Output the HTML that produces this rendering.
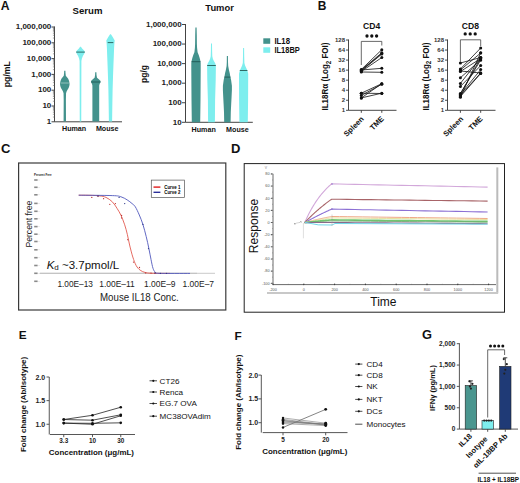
<!DOCTYPE html>
<html><head><meta charset="utf-8"><style>
html,body{margin:0;padding:0;background:#fff;}
svg{display:block;}
</style></head><body>
<svg width="520" height="483" viewBox="0 0 520 483">
<rect width="520" height="483" fill="#fff"/>
<text x="0.8" y="10" font-size="12.2" text-anchor="start" font-weight="bold" font-family="Liberation Sans, sans-serif" fill="#111" >A</text>
<text x="87.5" y="13.8" font-size="9.6" text-anchor="middle" font-weight="bold" font-family="Liberation Sans, sans-serif" fill="#111" >Serum</text>
<line x1="54.5" y1="26.5" x2="54.5" y2="121.8" stroke="#444" stroke-width="1" />
<line x1="51.5" y1="27.0" x2="54.5" y2="27.0" stroke="#444" stroke-width="1" />
<text x="51.3" y="29.2" font-size="8.0" text-anchor="end" font-weight="bold" font-family="Liberation Sans, sans-serif" fill="#222" >1,000,000</text>
<line x1="52.9" y1="38.043" x2="54.5" y2="38.043" stroke="#666" stroke-width="0.6" />
<line x1="52.9" y1="35.261" x2="54.5" y2="35.261" stroke="#666" stroke-width="0.6" />
<line x1="52.9" y1="33.287" x2="54.5" y2="33.287" stroke="#666" stroke-width="0.6" />
<line x1="52.9" y1="31.756" x2="54.5" y2="31.756" stroke="#666" stroke-width="0.6" />
<line x1="52.9" y1="30.505" x2="54.5" y2="30.505" stroke="#666" stroke-width="0.6" />
<line x1="52.9" y1="29.447" x2="54.5" y2="29.447" stroke="#666" stroke-width="0.6" />
<line x1="52.9" y1="28.531" x2="54.5" y2="28.531" stroke="#666" stroke-width="0.6" />
<line x1="52.9" y1="27.722" x2="54.5" y2="27.722" stroke="#666" stroke-width="0.6" />
<line x1="51.5" y1="42.8" x2="54.5" y2="42.8" stroke="#444" stroke-width="1" />
<text x="51.3" y="45.0" font-size="8.0" text-anchor="end" font-weight="bold" font-family="Liberation Sans, sans-serif" fill="#222" >100,000</text>
<line x1="52.9" y1="53.843" x2="54.5" y2="53.843" stroke="#666" stroke-width="0.6" />
<line x1="52.9" y1="51.061" x2="54.5" y2="51.061" stroke="#666" stroke-width="0.6" />
<line x1="52.9" y1="49.087" x2="54.5" y2="49.087" stroke="#666" stroke-width="0.6" />
<line x1="52.9" y1="47.556" x2="54.5" y2="47.556" stroke="#666" stroke-width="0.6" />
<line x1="52.9" y1="46.305" x2="54.5" y2="46.305" stroke="#666" stroke-width="0.6" />
<line x1="52.9" y1="45.247" x2="54.5" y2="45.247" stroke="#666" stroke-width="0.6" />
<line x1="52.9" y1="44.331" x2="54.5" y2="44.331" stroke="#666" stroke-width="0.6" />
<line x1="52.9" y1="43.522" x2="54.5" y2="43.522" stroke="#666" stroke-width="0.6" />
<line x1="51.5" y1="58.6" x2="54.5" y2="58.6" stroke="#444" stroke-width="1" />
<text x="51.3" y="60.800" font-size="8.0" text-anchor="end" font-weight="bold" font-family="Liberation Sans, sans-serif" fill="#222" >10,000</text>
<line x1="52.9" y1="69.643" x2="54.5" y2="69.643" stroke="#666" stroke-width="0.6" />
<line x1="52.9" y1="66.861" x2="54.5" y2="66.861" stroke="#666" stroke-width="0.6" />
<line x1="52.9" y1="64.887" x2="54.5" y2="64.887" stroke="#666" stroke-width="0.6" />
<line x1="52.9" y1="63.356" x2="54.5" y2="63.356" stroke="#666" stroke-width="0.6" />
<line x1="52.9" y1="62.105" x2="54.5" y2="62.105" stroke="#666" stroke-width="0.6" />
<line x1="52.9" y1="61.047" x2="54.5" y2="61.047" stroke="#666" stroke-width="0.6" />
<line x1="52.9" y1="60.131" x2="54.5" y2="60.131" stroke="#666" stroke-width="0.6" />
<line x1="52.9" y1="59.322" x2="54.5" y2="59.322" stroke="#666" stroke-width="0.6" />
<line x1="51.5" y1="74.4" x2="54.5" y2="74.4" stroke="#444" stroke-width="1" />
<text x="51.3" y="76.600" font-size="8.0" text-anchor="end" font-weight="bold" font-family="Liberation Sans, sans-serif" fill="#222" >1,000</text>
<line x1="52.9" y1="85.443" x2="54.5" y2="85.443" stroke="#666" stroke-width="0.6" />
<line x1="52.9" y1="82.661" x2="54.5" y2="82.661" stroke="#666" stroke-width="0.6" />
<line x1="52.9" y1="80.687" x2="54.5" y2="80.687" stroke="#666" stroke-width="0.6" />
<line x1="52.9" y1="79.156" x2="54.5" y2="79.156" stroke="#666" stroke-width="0.6" />
<line x1="52.9" y1="77.905" x2="54.5" y2="77.905" stroke="#666" stroke-width="0.6" />
<line x1="52.9" y1="76.847" x2="54.5" y2="76.847" stroke="#666" stroke-width="0.6" />
<line x1="52.9" y1="75.931" x2="54.5" y2="75.931" stroke="#666" stroke-width="0.6" />
<line x1="52.9" y1="75.122" x2="54.5" y2="75.122" stroke="#666" stroke-width="0.6" />
<line x1="51.5" y1="90.2" x2="54.5" y2="90.2" stroke="#444" stroke-width="1" />
<text x="51.3" y="92.4" font-size="8.0" text-anchor="end" font-weight="bold" font-family="Liberation Sans, sans-serif" fill="#222" >100</text>
<line x1="52.9" y1="101.243" x2="54.5" y2="101.243" stroke="#666" stroke-width="0.6" />
<line x1="52.9" y1="98.461" x2="54.5" y2="98.461" stroke="#666" stroke-width="0.6" />
<line x1="52.9" y1="96.487" x2="54.5" y2="96.487" stroke="#666" stroke-width="0.6" />
<line x1="52.9" y1="94.956" x2="54.5" y2="94.956" stroke="#666" stroke-width="0.6" />
<line x1="52.9" y1="93.705" x2="54.5" y2="93.705" stroke="#666" stroke-width="0.6" />
<line x1="52.9" y1="92.647" x2="54.5" y2="92.647" stroke="#666" stroke-width="0.6" />
<line x1="52.9" y1="91.731" x2="54.5" y2="91.731" stroke="#666" stroke-width="0.6" />
<line x1="52.9" y1="90.922" x2="54.5" y2="90.922" stroke="#666" stroke-width="0.6" />
<line x1="51.5" y1="106.0" x2="54.5" y2="106.0" stroke="#444" stroke-width="1" />
<text x="51.3" y="108.2" font-size="8.0" text-anchor="end" font-weight="bold" font-family="Liberation Sans, sans-serif" fill="#222" >10</text>
<line x1="52.9" y1="117.043" x2="54.5" y2="117.043" stroke="#666" stroke-width="0.6" />
<line x1="52.9" y1="114.261" x2="54.5" y2="114.261" stroke="#666" stroke-width="0.6" />
<line x1="52.9" y1="112.287" x2="54.5" y2="112.287" stroke="#666" stroke-width="0.6" />
<line x1="52.9" y1="110.756" x2="54.5" y2="110.756" stroke="#666" stroke-width="0.6" />
<line x1="52.9" y1="109.505" x2="54.5" y2="109.505" stroke="#666" stroke-width="0.6" />
<line x1="52.9" y1="108.447" x2="54.5" y2="108.447" stroke="#666" stroke-width="0.6" />
<line x1="52.9" y1="107.531" x2="54.5" y2="107.531" stroke="#666" stroke-width="0.6" />
<line x1="52.9" y1="106.722" x2="54.5" y2="106.722" stroke="#666" stroke-width="0.6" />
<line x1="51.5" y1="121.800" x2="54.5" y2="121.800" stroke="#444" stroke-width="1" />
<text x="51.3" y="124.000" font-size="8.0" text-anchor="end" font-weight="bold" font-family="Liberation Sans, sans-serif" fill="#222" >1</text>
<line x1="54.5" y1="121.8" x2="122" y2="121.8" stroke="#444" stroke-width="1" />
<text x="9.8" y="74.2" font-size="8.7" text-anchor="middle" font-weight="bold" font-family="Liberation Sans, sans-serif" fill="#111" transform="rotate(-90 9.8 74.2)">pg/mL</text>
<path d="M64.20,70.80 L64.10,73.00 L63.80,75.70 L62.60,77.30 L61.40,78.80 L60.50,81.00 L60.00,84.00 L60.30,86.00 L61.00,88.00 L62.20,90.00 L63.00,91.50 L63.55,93.30 L63.70,100.00 L63.60,121.40 L66.00,121.40 L65.90,100.00 L66.05,93.30 L66.60,91.50 L67.40,90.00 L68.60,88.00 L69.30,86.00 L69.60,84.00 L69.10,81.00 L68.20,78.80 L67.00,77.30 L65.80,75.70 L65.50,73.00 L65.40,70.80Z" fill="#43928c"/>
<line x1="60.8" y1="83" x2="68.8" y2="83" stroke="#8fc0bb" stroke-width="1" />
<path d="M80.10,46.70 L78.90,48.50 L76.90,50.50 L76.10,52.00 L76.90,54.00 L78.10,56.00 L79.10,58.50 L79.60,61.00 L79.75,121.40 L81.25,121.40 L81.40,61.00 L81.90,58.50 L82.90,56.00 L84.10,54.00 L84.90,52.00 L84.10,50.50 L82.10,48.50 L80.90,46.70Z" fill="#7eeeee"/>
<line x1="76.2" y1="52.1" x2="84.8" y2="52.1" stroke="#2e6b66" stroke-width="1" />
<path d="M95.20,72.20 L95.10,75.00 L94.60,77.80 L92.80,79.30 L91.00,80.90 L91.20,82.50 L92.00,84.00 L92.40,85.50 L92.40,121.40 L99.20,121.40 L99.20,85.50 L99.60,84.00 L100.40,82.50 L100.60,80.90 L98.80,79.30 L97.00,77.80 L96.50,75.00 L96.40,72.20Z" fill="#43928c"/>
<line x1="91.2" y1="82.0" x2="100.399" y2="82.0" stroke="#235e5a" stroke-width="1" />
<path d="M110.10,34.30 L108.30,37.00 L106.30,40.50 L106.60,43.00 L106.90,48.00 L107.20,56.00 L107.60,66.00 L108.00,77.00 L108.40,90.00 L108.70,108.00 L108.90,121.40 L112.10,121.40 L112.30,108.00 L112.60,90.00 L113.00,77.00 L113.40,66.00 L113.80,56.00 L114.10,48.00 L114.40,43.00 L114.70,40.50 L112.70,37.00 L110.90,34.30Z" fill="#7eeeee"/>
<line x1="107.7" y1="42.6" x2="113.3" y2="42.6" stroke="#2e6b66" stroke-width="1" />
<text x="74.1" y="131.2" font-size="7.15" text-anchor="middle" font-weight="bold" font-family="Liberation Sans, sans-serif" fill="#111" >Human</text>
<text x="107.2" y="131.2" font-size="7.15" text-anchor="middle" font-weight="bold" font-family="Liberation Sans, sans-serif" fill="#111" >Mouse</text>
<text x="219.6" y="11.1" font-size="9.4" text-anchor="middle" font-weight="bold" font-family="Liberation Sans, sans-serif" fill="#111" >Tumor</text>
<line x1="185.5" y1="24.0" x2="185.5" y2="122.3" stroke="#444" stroke-width="1" />
<line x1="182.0" y1="24.5" x2="185.5" y2="24.5" stroke="#444" stroke-width="1" />
<text x="181.6" y="26.8" font-size="8.0" text-anchor="end" font-weight="bold" font-family="Liberation Sans, sans-serif" fill="#222" >1,000,000</text>
<line x1="182.0" y1="44.06" x2="185.5" y2="44.06" stroke="#444" stroke-width="1" />
<text x="181.6" y="46.36" font-size="8.0" text-anchor="end" font-weight="bold" font-family="Liberation Sans, sans-serif" fill="#222" >100,000</text>
<line x1="182.0" y1="63.62" x2="185.5" y2="63.62" stroke="#444" stroke-width="1" />
<text x="181.6" y="65.92" font-size="8.0" text-anchor="end" font-weight="bold" font-family="Liberation Sans, sans-serif" fill="#222" >10,000</text>
<line x1="182.0" y1="83.179" x2="185.5" y2="83.179" stroke="#444" stroke-width="1" />
<text x="181.6" y="85.479" font-size="8.0" text-anchor="end" font-weight="bold" font-family="Liberation Sans, sans-serif" fill="#222" >1,000</text>
<line x1="182.0" y1="102.74" x2="185.5" y2="102.74" stroke="#444" stroke-width="1" />
<text x="181.6" y="105.039" font-size="8.0" text-anchor="end" font-weight="bold" font-family="Liberation Sans, sans-serif" fill="#222" >100</text>
<line x1="182.0" y1="122.3" x2="185.5" y2="122.3" stroke="#444" stroke-width="1" />
<text x="181.6" y="124.6" font-size="8.0" text-anchor="end" font-weight="bold" font-family="Liberation Sans, sans-serif" fill="#222" >10</text>
<line x1="185.5" y1="122.3" x2="252.8" y2="122.3" stroke="#444" stroke-width="1" />
<text x="146.8" y="74" font-size="8.5" text-anchor="middle" font-weight="bold" font-family="Liberation Sans, sans-serif" fill="#111" transform="rotate(-90 146.8 74)">pg/g</text>
<path d="M195.40,27.60 L195.20,35.00 L195.10,44.00 L194.90,48.00 L194.40,52.30 L193.30,55.00 L192.40,57.70 L191.70,60.40 L191.30,63.00 L191.30,70.00 L191.50,100.00 L191.80,122.30 L200.20,122.30 L200.50,100.00 L200.70,70.00 L200.70,63.00 L200.30,60.40 L199.60,57.70 L198.70,55.00 L197.60,52.30 L197.10,48.00 L196.90,44.00 L196.80,35.00 L196.60,27.60Z" fill="#43928c"/>
<line x1="191.6" y1="61.7" x2="200.4" y2="61.7" stroke="#235e5a" stroke-width="1" />
<path d="M211.00,43.50 L210.90,50.00 L210.70,56.30 L210.20,58.50 L209.40,60.40 L208.50,62.00 L207.70,63.50 L207.10,65.50 L207.30,80.00 L207.90,100.00 L208.10,122.30 L214.90,122.30 L215.10,100.00 L215.70,80.00 L215.90,65.50 L215.30,63.50 L214.50,62.00 L213.60,60.40 L212.80,58.50 L212.30,56.30 L212.10,50.00 L212.00,43.50Z" fill="#7eeeee"/>
<line x1="207.2" y1="65.5" x2="215.8" y2="65.5" stroke="#2e6b66" stroke-width="1" />
<path d="M226.85,56.00 L226.80,62.00 L226.60,66.00 L225.80,70.20 L225.10,73.00 L224.50,76.40 L223.70,80.00 L222.90,85.70 L222.90,90.00 L223.20,96.50 L223.60,104.00 L224.00,112.00 L224.20,122.30 L230.60,122.30 L230.80,112.00 L231.20,104.00 L231.60,96.50 L231.90,90.00 L231.90,85.70 L231.10,80.00 L230.30,76.40 L229.70,73.00 L229.00,70.20 L228.20,66.00 L228.00,62.00 L227.95,56.00Z" fill="#43928c"/>
<line x1="224.4" y1="77.1" x2="230.4" y2="77.1" stroke="#235e5a" stroke-width="1" />
<path d="M243.10,48.00 L243.00,56.00 L242.80,63.00 L242.10,65.50 L241.10,67.80 L239.80,70.50 L239.00,73.80 L239.10,100.00 L239.40,122.30 L247.80,122.30 L248.10,100.00 L248.20,73.80 L247.40,70.50 L246.10,67.80 L245.10,65.50 L244.40,63.00 L244.20,56.00 L244.10,48.00Z" fill="#7eeeee"/>
<line x1="239.799" y1="70.5" x2="247.4" y2="70.5" stroke="#2e6b66" stroke-width="1" />
<text x="203.7" y="131.7" font-size="7.15" text-anchor="middle" font-weight="bold" font-family="Liberation Sans, sans-serif" fill="#111" >Human</text>
<text x="237.4" y="131.7" font-size="7.15" text-anchor="middle" font-weight="bold" font-family="Liberation Sans, sans-serif" fill="#111" >Mouse</text>
<rect x="263.3" y="38.3" width="6.9" height="5.5" fill="#43928c"/>
<rect x="263.3" y="47.3" width="6.9" height="5.5" fill="#7eeeee"/>
<text x="274.4" y="43.7" font-size="8.3" text-anchor="start" font-weight="bold" font-family="Liberation Sans, sans-serif" fill="#111" textLength="15.6" lengthAdjust="spacingAndGlyphs" >IL18</text>
<text x="274.4" y="52.9" font-size="8.3" text-anchor="start" font-weight="bold" font-family="Liberation Sans, sans-serif" fill="#111" textLength="25.4" lengthAdjust="spacingAndGlyphs" >IL18BP</text>
<text x="317.8" y="10" font-size="12" text-anchor="start" font-weight="bold" font-family="Liberation Sans, sans-serif" fill="#111" >B</text>
<line x1="348.5" y1="39.5" x2="348.5" y2="110.3" stroke="#333" stroke-width="0.9" />
<line x1="346.0" y1="110.3" x2="348.5" y2="110.3" stroke="#333" stroke-width="0.9" />
<text x="345.0" y="112.399" font-size="6.0" text-anchor="end" font-weight="bold" font-family="Liberation Sans, sans-serif" fill="#333" >1</text>
<line x1="346.0" y1="100.259" x2="348.5" y2="100.259" stroke="#333" stroke-width="0.9" />
<text x="345.0" y="102.359" font-size="6.0" text-anchor="end" font-weight="bold" font-family="Liberation Sans, sans-serif" fill="#333" >2</text>
<line x1="346.0" y1="90.22" x2="348.5" y2="90.22" stroke="#333" stroke-width="0.9" />
<text x="345.0" y="92.32" font-size="6.0" text-anchor="end" font-weight="bold" font-family="Liberation Sans, sans-serif" fill="#333" >4</text>
<line x1="346.0" y1="80.18" x2="348.5" y2="80.18" stroke="#333" stroke-width="0.9" />
<text x="345.0" y="82.28" font-size="6.0" text-anchor="end" font-weight="bold" font-family="Liberation Sans, sans-serif" fill="#333" >8</text>
<line x1="346.0" y1="70.14" x2="348.5" y2="70.14" stroke="#333" stroke-width="0.9" />
<text x="345.0" y="72.24" font-size="6.0" text-anchor="end" font-weight="bold" font-family="Liberation Sans, sans-serif" fill="#333" >16</text>
<line x1="346.0" y1="60.1" x2="348.5" y2="60.1" stroke="#333" stroke-width="0.9" />
<text x="345.0" y="62.2" font-size="6.0" text-anchor="end" font-weight="bold" font-family="Liberation Sans, sans-serif" fill="#333" >32</text>
<line x1="346.0" y1="50.06" x2="348.5" y2="50.06" stroke="#333" stroke-width="0.9" />
<text x="345.0" y="52.160" font-size="6.0" text-anchor="end" font-weight="bold" font-family="Liberation Sans, sans-serif" fill="#333" >64</text>
<line x1="346.0" y1="40.019" x2="348.5" y2="40.019" stroke="#333" stroke-width="0.9" />
<text x="345.0" y="42.12" font-size="6.0" text-anchor="end" font-weight="bold" font-family="Liberation Sans, sans-serif" fill="#333" >128</text>
<line x1="348.5" y1="110.3" x2="396.5" y2="110.3" stroke="#333" stroke-width="0.9" />
<line x1="361.3" y1="110.3" x2="361.3" y2="112.8" stroke="#333" stroke-width="0.9" />
<line x1="381.8" y1="110.3" x2="381.8" y2="112.8" stroke="#333" stroke-width="0.9" />
<text x="371.6" y="29.2" font-size="8.6" text-anchor="middle" font-weight="bold" font-family="Liberation Sans, sans-serif" fill="#111" >CD4</text>
<circle cx="367.00" cy="36.0" r="1.65" fill="#111"/>
<circle cx="371.80" cy="36.0" r="1.65" fill="#111"/>
<circle cx="376.60" cy="36.0" r="1.65" fill="#111"/>
<path d="M361.3,65 L361.3,41.4 L381.8,41.4 L381.8,45.5" fill="none" stroke="#444" stroke-width="0.8"/>
<line x1="361.3" y1="69.5" x2="381.8" y2="49.7" stroke="#111" stroke-width="0.8" />
<line x1="361.3" y1="70" x2="381.8" y2="52.8" stroke="#111" stroke-width="0.8" />
<line x1="361.3" y1="70.5" x2="381.8" y2="53.5" stroke="#111" stroke-width="0.8" />
<line x1="361.3" y1="71" x2="381.8" y2="54.1" stroke="#111" stroke-width="0.8" />
<line x1="361.3" y1="71.5" x2="381.8" y2="57.5" stroke="#111" stroke-width="0.8" />
<line x1="361.3" y1="70" x2="381.8" y2="68.3" stroke="#111" stroke-width="0.8" />
<line x1="361.3" y1="72" x2="381.8" y2="72.3" stroke="#111" stroke-width="0.8" />
<line x1="361.3" y1="93.2" x2="381.8" y2="83.7" stroke="#111" stroke-width="0.8" />
<line x1="361.3" y1="97.9" x2="381.8" y2="83.7" stroke="#111" stroke-width="0.8" />
<line x1="361.3" y1="97.9" x2="381.8" y2="93.2" stroke="#111" stroke-width="0.8" />
<line x1="361.3" y1="93.2" x2="381.8" y2="93.5" stroke="#111" stroke-width="0.8" />
<line x1="361.3" y1="95.5" x2="381.8" y2="84.2" stroke="#111" stroke-width="0.8" />
<circle cx="361.3" cy="69.5" r="1.5" fill="#111"/>
<circle cx="381.8" cy="49.7" r="1.5" fill="#111"/>
<circle cx="361.3" cy="70" r="1.5" fill="#111"/>
<circle cx="381.8" cy="52.8" r="1.5" fill="#111"/>
<circle cx="361.3" cy="70.5" r="1.5" fill="#111"/>
<circle cx="381.8" cy="53.5" r="1.5" fill="#111"/>
<circle cx="361.3" cy="71" r="1.5" fill="#111"/>
<circle cx="381.8" cy="54.1" r="1.5" fill="#111"/>
<circle cx="361.3" cy="71.5" r="1.5" fill="#111"/>
<circle cx="381.8" cy="57.5" r="1.5" fill="#111"/>
<circle cx="361.3" cy="70" r="1.5" fill="#111"/>
<circle cx="381.8" cy="68.3" r="1.5" fill="#111"/>
<circle cx="361.3" cy="72" r="1.5" fill="#111"/>
<circle cx="381.8" cy="72.3" r="1.5" fill="#111"/>
<circle cx="361.3" cy="93.2" r="1.5" fill="#111"/>
<circle cx="381.8" cy="83.7" r="1.5" fill="#111"/>
<circle cx="361.3" cy="97.9" r="1.5" fill="#111"/>
<circle cx="381.8" cy="83.7" r="1.5" fill="#111"/>
<circle cx="361.3" cy="97.9" r="1.5" fill="#111"/>
<circle cx="381.8" cy="93.2" r="1.5" fill="#111"/>
<circle cx="361.3" cy="93.2" r="1.5" fill="#111"/>
<circle cx="381.8" cy="93.5" r="1.5" fill="#111"/>
<circle cx="361.3" cy="95.5" r="1.5" fill="#111"/>
<circle cx="381.8" cy="84.2" r="1.5" fill="#111"/>
<line x1="447.5" y1="39.5" x2="447.5" y2="110.3" stroke="#333" stroke-width="0.9" />
<line x1="445.0" y1="110.3" x2="447.5" y2="110.3" stroke="#333" stroke-width="0.9" />
<text x="444.0" y="112.399" font-size="6.0" text-anchor="end" font-weight="bold" font-family="Liberation Sans, sans-serif" fill="#333" >1</text>
<line x1="445.0" y1="100.259" x2="447.5" y2="100.259" stroke="#333" stroke-width="0.9" />
<text x="444.0" y="102.359" font-size="6.0" text-anchor="end" font-weight="bold" font-family="Liberation Sans, sans-serif" fill="#333" >2</text>
<line x1="445.0" y1="90.22" x2="447.5" y2="90.22" stroke="#333" stroke-width="0.9" />
<text x="444.0" y="92.32" font-size="6.0" text-anchor="end" font-weight="bold" font-family="Liberation Sans, sans-serif" fill="#333" >4</text>
<line x1="445.0" y1="80.18" x2="447.5" y2="80.18" stroke="#333" stroke-width="0.9" />
<text x="444.0" y="82.28" font-size="6.0" text-anchor="end" font-weight="bold" font-family="Liberation Sans, sans-serif" fill="#333" >8</text>
<line x1="445.0" y1="70.14" x2="447.5" y2="70.14" stroke="#333" stroke-width="0.9" />
<text x="444.0" y="72.24" font-size="6.0" text-anchor="end" font-weight="bold" font-family="Liberation Sans, sans-serif" fill="#333" >16</text>
<line x1="445.0" y1="60.1" x2="447.5" y2="60.1" stroke="#333" stroke-width="0.9" />
<text x="444.0" y="62.2" font-size="6.0" text-anchor="end" font-weight="bold" font-family="Liberation Sans, sans-serif" fill="#333" >32</text>
<line x1="445.0" y1="50.06" x2="447.5" y2="50.06" stroke="#333" stroke-width="0.9" />
<text x="444.0" y="52.160" font-size="6.0" text-anchor="end" font-weight="bold" font-family="Liberation Sans, sans-serif" fill="#333" >64</text>
<line x1="445.0" y1="40.019" x2="447.5" y2="40.019" stroke="#333" stroke-width="0.9" />
<text x="444.0" y="42.12" font-size="6.0" text-anchor="end" font-weight="bold" font-family="Liberation Sans, sans-serif" fill="#333" >128</text>
<line x1="447.5" y1="110.3" x2="495.5" y2="110.3" stroke="#333" stroke-width="0.9" />
<line x1="460.4" y1="110.3" x2="460.4" y2="112.8" stroke="#333" stroke-width="0.9" />
<line x1="480.7" y1="110.3" x2="480.7" y2="112.8" stroke="#333" stroke-width="0.9" />
<text x="470.4" y="29.2" font-size="8.6" text-anchor="middle" font-weight="bold" font-family="Liberation Sans, sans-serif" fill="#111" >CD8</text>
<circle cx="465.20" cy="33.9" r="1.65" fill="#111"/>
<circle cx="470.20" cy="33.9" r="1.65" fill="#111"/>
<circle cx="475.20" cy="33.9" r="1.65" fill="#111"/>
<path d="M460.4,61.6 L460.4,39.8 L480.7,39.8 L480.7,46" fill="none" stroke="#444" stroke-width="0.8"/>
<line x1="460.4" y1="63" x2="480.7" y2="57.5" stroke="#111" stroke-width="0.8" />
<line x1="460.4" y1="69" x2="480.7" y2="48" stroke="#111" stroke-width="0.8" />
<line x1="460.4" y1="70" x2="480.7" y2="53" stroke="#111" stroke-width="0.8" />
<line x1="460.4" y1="71.5" x2="480.7" y2="58.5" stroke="#111" stroke-width="0.8" />
<line x1="460.4" y1="77.7" x2="480.7" y2="60" stroke="#111" stroke-width="0.8" />
<line x1="460.4" y1="83.4" x2="480.7" y2="57.5" stroke="#111" stroke-width="0.8" />
<line x1="460.4" y1="86.5" x2="480.7" y2="65.6" stroke="#111" stroke-width="0.8" />
<line x1="460.4" y1="93.5" x2="480.7" y2="60" stroke="#111" stroke-width="0.8" />
<line x1="460.4" y1="94.5" x2="480.7" y2="69.6" stroke="#111" stroke-width="0.8" />
<line x1="460.4" y1="95.5" x2="480.7" y2="73" stroke="#111" stroke-width="0.8" />
<line x1="460.4" y1="96.5" x2="480.7" y2="73.5" stroke="#111" stroke-width="0.8" />
<line x1="460.4" y1="97.3" x2="480.7" y2="52.8" stroke="#111" stroke-width="0.8" />
<line x1="460.4" y1="71" x2="480.7" y2="73" stroke="#111" stroke-width="0.8" />
<line x1="460.4" y1="94" x2="480.7" y2="58" stroke="#111" stroke-width="0.8" />
<circle cx="460.4" cy="63" r="1.5" fill="#111"/>
<circle cx="480.7" cy="57.5" r="1.5" fill="#111"/>
<circle cx="460.4" cy="69" r="1.5" fill="#111"/>
<circle cx="480.7" cy="48" r="1.5" fill="#111"/>
<circle cx="460.4" cy="70" r="1.5" fill="#111"/>
<circle cx="480.7" cy="53" r="1.5" fill="#111"/>
<circle cx="460.4" cy="71.5" r="1.5" fill="#111"/>
<circle cx="480.7" cy="58.5" r="1.5" fill="#111"/>
<circle cx="460.4" cy="77.7" r="1.5" fill="#111"/>
<circle cx="480.7" cy="60" r="1.5" fill="#111"/>
<circle cx="460.4" cy="83.4" r="1.5" fill="#111"/>
<circle cx="480.7" cy="57.5" r="1.5" fill="#111"/>
<circle cx="460.4" cy="86.5" r="1.5" fill="#111"/>
<circle cx="480.7" cy="65.6" r="1.5" fill="#111"/>
<circle cx="460.4" cy="93.5" r="1.5" fill="#111"/>
<circle cx="480.7" cy="60" r="1.5" fill="#111"/>
<circle cx="460.4" cy="94.5" r="1.5" fill="#111"/>
<circle cx="480.7" cy="69.6" r="1.5" fill="#111"/>
<circle cx="460.4" cy="95.5" r="1.5" fill="#111"/>
<circle cx="480.7" cy="73" r="1.5" fill="#111"/>
<circle cx="460.4" cy="96.5" r="1.5" fill="#111"/>
<circle cx="480.7" cy="73.5" r="1.5" fill="#111"/>
<circle cx="460.4" cy="97.3" r="1.5" fill="#111"/>
<circle cx="480.7" cy="52.8" r="1.5" fill="#111"/>
<circle cx="460.4" cy="71" r="1.5" fill="#111"/>
<circle cx="480.7" cy="73" r="1.5" fill="#111"/>
<circle cx="460.4" cy="94" r="1.5" fill="#111"/>
<circle cx="480.7" cy="58" r="1.5" fill="#111"/>
<text x="328.2" y="76.5" font-size="8.6" font-weight="bold" font-family="Liberation Sans, sans-serif" fill="#111" text-anchor="middle" transform="rotate(-90 328.2 76.5)" textLength="68" lengthAdjust="spacingAndGlyphs">IL18R&#945; (Log<tspan font-size="6.6" dy="2.6">2</tspan><tspan dy="-2.6"> FOI)</tspan></text>
<text x="428.6" y="76.5" font-size="8.6" font-weight="bold" font-family="Liberation Sans, sans-serif" fill="#111" text-anchor="middle" transform="rotate(-90 428.6 76.5)" textLength="68" lengthAdjust="spacingAndGlyphs">IL18R&#945; (Log<tspan font-size="6.6" dy="2.6">2</tspan><tspan dy="-2.6"> FOI)</tspan></text>
<text x="364.4" y="119.5" font-size="7.6" font-weight="bold" font-family="Liberation Sans, sans-serif" fill="#111" text-anchor="end" transform="rotate(-45 364.4 119.5)">Spleen</text>
<text x="384.3" y="119.3" font-size="7.6" font-weight="bold" font-family="Liberation Sans, sans-serif" fill="#111" text-anchor="end" transform="rotate(-45 384.3 119.3)">TME</text>
<text x="463.8" y="119.5" font-size="7.6" font-weight="bold" font-family="Liberation Sans, sans-serif" fill="#111" text-anchor="end" transform="rotate(-45 463.8 119.5)">Spleen</text>
<text x="483.2" y="119.3" font-size="7.6" font-weight="bold" font-family="Liberation Sans, sans-serif" fill="#111" text-anchor="end" transform="rotate(-45 483.2 119.3)">TME</text>
<text x="0.9" y="152.6" font-size="13" text-anchor="start" font-weight="bold" font-family="Liberation Sans, sans-serif" fill="#111" >C</text>
<rect x="18.6" y="163" width="207.2" height="147" fill="none" stroke="#3a3a3a" stroke-width="1.2"/>
<text x="34" y="175.5" font-size="3.6" text-anchor="start" font-weight="bold" font-family="Liberation Sans, sans-serif" fill="#222" textLength="17.5" lengthAdjust="spacingAndGlyphs" >Percent Free</text>
<rect x="34.2" y="179.2" width="3.4" height="1.6" fill="#8a8a8a"/>
<rect x="38.6" y="179.7" width="0.8" height="0.6" fill="#bbb"/>
<rect x="34.2" y="186.5" width="3.4" height="1.6" fill="#8a8a8a"/>
<rect x="38.6" y="187.0" width="0.8" height="0.6" fill="#bbb"/>
<rect x="34.2" y="194.0" width="3.4" height="1.6" fill="#8a8a8a"/>
<rect x="38.6" y="194.5" width="0.8" height="0.6" fill="#bbb"/>
<rect x="34.2" y="202.6" width="3.4" height="1.6" fill="#8a8a8a"/>
<rect x="38.6" y="203.1" width="0.8" height="0.6" fill="#bbb"/>
<rect x="34.2" y="210.5" width="3.4" height="1.6" fill="#8a8a8a"/>
<rect x="38.6" y="211.0" width="0.8" height="0.6" fill="#bbb"/>
<rect x="34.2" y="218.0" width="3.4" height="1.6" fill="#8a8a8a"/>
<rect x="38.6" y="218.5" width="0.8" height="0.6" fill="#bbb"/>
<rect x="34.2" y="225.799" width="3.4" height="1.6" fill="#8a8a8a"/>
<rect x="38.6" y="226.299" width="0.8" height="0.6" fill="#bbb"/>
<rect x="34.2" y="233.399" width="3.4" height="1.6" fill="#8a8a8a"/>
<rect x="38.6" y="233.899" width="0.8" height="0.6" fill="#bbb"/>
<rect x="34.2" y="240.7" width="3.4" height="1.6" fill="#8a8a8a"/>
<rect x="38.6" y="241.2" width="0.8" height="0.6" fill="#bbb"/>
<rect x="34.2" y="249.0" width="3.4" height="1.6" fill="#8a8a8a"/>
<rect x="38.6" y="249.5" width="0.8" height="0.6" fill="#bbb"/>
<rect x="34.2" y="256.9" width="3.4" height="1.6" fill="#8a8a8a"/>
<rect x="38.6" y="257.4" width="0.8" height="0.6" fill="#bbb"/>
<rect x="34.2" y="264.7" width="3.4" height="1.6" fill="#8a8a8a"/>
<rect x="38.6" y="265.2" width="0.8" height="0.6" fill="#bbb"/>
<rect x="34.2" y="272.5" width="3.4" height="1.6" fill="#8a8a8a"/>
<rect x="38.6" y="273.0" width="0.8" height="0.6" fill="#bbb"/>
<rect x="34.2" y="280.5" width="3.4" height="1.6" fill="#8a8a8a"/>
<rect x="38.6" y="281.0" width="0.8" height="0.6" fill="#bbb"/>
<line x1="39.8" y1="273.3" x2="215" y2="273.3" stroke="#bbb" stroke-width="0.8" />
<text x="31.8" y="224.1" font-size="9.4" font-family="Liberation Sans, sans-serif" fill="#222" text-anchor="middle" transform="rotate(-90 31.8 224.1)" textLength="47" lengthAdjust="spacingAndGlyphs">Percent free</text>
<line x1="39.8" y1="273.3" x2="197" y2="273.3" stroke="#bbb" stroke-width="0.8" />
<path d="M78.70,195.20 C80.58,195.22 86.48,195.18 90.00,195.30 C93.52,195.42 97.13,195.55 99.80,195.90 C102.47,196.25 103.92,196.42 106.00,197.40 C108.08,198.38 110.43,199.93 112.30,201.80 C114.17,203.67 115.75,206.33 117.20,208.60 C118.65,210.87 119.75,212.70 121.00,215.40 C122.25,218.10 123.63,221.58 124.70,224.80 C125.77,228.02 126.58,231.33 127.40,234.70 C128.22,238.07 128.70,241.28 129.60,245.00 C130.50,248.72 131.70,253.57 132.80,257.00 C133.90,260.43 134.97,263.40 136.20,265.60 C137.43,267.80 138.63,269.03 140.20,270.20 C141.77,271.37 143.37,272.08 145.60,272.60 C147.83,273.12 149.53,273.17 153.60,273.30 C157.67,273.43 167.27,273.38 170.00,273.40" fill="none" stroke="#e25a50" stroke-width="0.9"/>
<path d="M78.70,195.20 C84.30,195.27 105.25,195.33 112.30,195.60 C119.35,195.87 118.52,196.08 121.00,196.80 C123.48,197.52 125.35,198.77 127.20,199.90 C129.05,201.03 130.75,202.45 132.10,203.60 C133.45,204.75 134.10,204.90 135.30,206.80 C136.50,208.70 138.03,212.07 139.30,215.00 C140.57,217.93 141.75,220.82 142.90,224.40 C144.05,227.98 145.20,232.47 146.20,236.50 C147.20,240.53 148.10,244.78 148.90,248.60 C149.70,252.42 150.32,256.12 151.00,259.40 C151.68,262.68 152.28,266.17 153.00,268.30 C153.72,270.43 154.30,271.37 155.30,272.20 C156.30,273.03 153.22,273.10 159.00,273.30 C164.78,273.50 184.83,273.38 190.00,273.40" fill="none" stroke="#5058bc" stroke-width="0.9"/>
<circle cx="91.8" cy="197.4" r="0.65" fill="#b83030"/>
<circle cx="98" cy="196.2" r="0.65" fill="#b83030"/>
<circle cx="103.6" cy="198.7" r="0.65" fill="#b83030"/>
<circle cx="109.8" cy="204.3" r="0.65" fill="#b83030"/>
<circle cx="115.4" cy="203.6" r="0.65" fill="#b83030"/>
<circle cx="121.6" cy="215.4" r="0.65" fill="#b83030"/>
<circle cx="121.6" cy="217.9" r="0.65" fill="#b83030"/>
<circle cx="127.8" cy="239.7" r="0.65" fill="#b83030"/>
<circle cx="133.5" cy="262.1" r="0.65" fill="#b83030"/>
<circle cx="139.5" cy="267.5" r="0.65" fill="#b83030"/>
<circle cx="145.6" cy="272.9" r="0.65" fill="#b83030"/>
<circle cx="151" cy="273.1" r="0.65" fill="#b83030"/>
<circle cx="155" cy="273.2" r="0.65" fill="#b83030"/>
<circle cx="98" cy="196" r="0.65" fill="#2a3488"/>
<circle cx="119.1" cy="197.4" r="0.65" fill="#2a3488"/>
<circle cx="124.7" cy="203.6" r="0.65" fill="#2a3488"/>
<circle cx="142.9" cy="224.4" r="0.65" fill="#2a3488"/>
<circle cx="148.5" cy="248.6" r="0.65" fill="#2a3488"/>
<circle cx="155" cy="272.9" r="0.65" fill="#2a3488"/>
<circle cx="160.4" cy="273.3" r="0.65" fill="#2a3488"/>
<circle cx="166.4" cy="273.3" r="0.65" fill="#2a3488"/>
<rect x="151.3" y="180.1" width="33.1" height="17.3" fill="#fff" stroke="#555" stroke-width="0.7"/>
<line x1="153.5" y1="187.1" x2="160.4" y2="187.1" stroke="#e01c1c" stroke-width="1.4" />
<line x1="153.5" y1="192.3" x2="160.4" y2="192.3" stroke="#2b2f9a" stroke-width="1.4" />
<text x="164.2" y="188.8" font-size="5.4" text-anchor="start" font-weight="bold" font-family="Liberation Sans, sans-serif" fill="#000" textLength="16.2" lengthAdjust="spacingAndGlyphs" >Curve 1</text>
<text x="164.2" y="194.0" font-size="5.4" text-anchor="start" font-weight="bold" font-family="Liberation Sans, sans-serif" fill="#000" textLength="16.2" lengthAdjust="spacingAndGlyphs" >Curve 2</text>
<text x="46.7" y="268.8" font-size="11.5" font-family="Liberation Sans, sans-serif" fill="#111"><tspan font-style="italic">K</tspan><tspan font-size="8" dy="1.5">d</tspan><tspan dy="-1.5"> ~3.7pmol/L</tspan></text>
<text x="75.2" y="287.3" font-size="8.6" text-anchor="middle" font-weight="normal" font-family="Liberation Sans, sans-serif" fill="#222" textLength="35.5" lengthAdjust="spacingAndGlyphs" >1.00E&#8211;13</text>
<text x="117" y="287.3" font-size="8.6" text-anchor="middle" font-weight="normal" font-family="Liberation Sans, sans-serif" fill="#222" textLength="35.5" lengthAdjust="spacingAndGlyphs" >1.00E&#8211;11</text>
<text x="159.8" y="287.3" font-size="8.6" text-anchor="middle" font-weight="normal" font-family="Liberation Sans, sans-serif" fill="#222" textLength="31.5" lengthAdjust="spacingAndGlyphs" >1.00E&#8211;9</text>
<text x="198.3" y="287.3" font-size="8.6" text-anchor="middle" font-weight="normal" font-family="Liberation Sans, sans-serif" fill="#222" textLength="31.5" lengthAdjust="spacingAndGlyphs" >1.00E&#8211;7</text>
<text x="139.4" y="301.2" font-size="10.2" text-anchor="middle" font-weight="normal" font-family="Liberation Sans, sans-serif" fill="#222" textLength="78.8" lengthAdjust="spacingAndGlyphs" >Mouse IL18 Conc.</text>
<text x="230.9" y="152.7" font-size="13" text-anchor="start" font-weight="bold" font-family="Liberation Sans, sans-serif" fill="#111" >D</text>
<rect x="244.2" y="163.6" width="260.3" height="148.6" fill="none" stroke="#222" stroke-width="1"/>
<rect x="496.3" y="167.4" width="2" height="126" fill="#bbb"/>
<rect x="267" y="292" width="231" height="2" fill="#c8c8c8"/>
<line x1="273" y1="173.8" x2="273" y2="284.6" stroke="#444" stroke-width="0.8" />
<line x1="273" y1="284.6" x2="496" y2="284.6" stroke="#444" stroke-width="0.8" />
<line x1="271.5" y1="173.9" x2="273" y2="173.9" stroke="#444" stroke-width="0.6" />
<text x="269.6" y="175.200" font-size="3.8" text-anchor="end" font-weight="normal" font-family="Liberation Sans, sans-serif" fill="#555" >80</text>
<circle cx="271.3" cy="173.9" r="0.55" fill="#333"/>
<line x1="272" y1="179.975" x2="273" y2="179.975" stroke="#666" stroke-width="0.4" />
<line x1="271.5" y1="186.05" x2="273" y2="186.05" stroke="#444" stroke-width="0.6" />
<text x="269.6" y="187.350" font-size="3.8" text-anchor="end" font-weight="normal" font-family="Liberation Sans, sans-serif" fill="#555" >60</text>
<circle cx="271.3" cy="186.05" r="0.55" fill="#333"/>
<line x1="272" y1="192.125" x2="273" y2="192.125" stroke="#666" stroke-width="0.4" />
<line x1="271.5" y1="198.2" x2="273" y2="198.2" stroke="#444" stroke-width="0.6" />
<text x="269.6" y="199.5" font-size="3.8" text-anchor="end" font-weight="normal" font-family="Liberation Sans, sans-serif" fill="#555" >40</text>
<circle cx="271.3" cy="198.2" r="0.55" fill="#333"/>
<line x1="272" y1="204.274" x2="273" y2="204.274" stroke="#666" stroke-width="0.4" />
<line x1="271.5" y1="210.35" x2="273" y2="210.35" stroke="#444" stroke-width="0.6" />
<text x="269.6" y="211.65" font-size="3.8" text-anchor="end" font-weight="normal" font-family="Liberation Sans, sans-serif" fill="#555" >20</text>
<circle cx="271.3" cy="210.35" r="0.55" fill="#333"/>
<line x1="272" y1="216.424" x2="273" y2="216.424" stroke="#666" stroke-width="0.4" />
<line x1="271.5" y1="222.5" x2="273" y2="222.5" stroke="#444" stroke-width="0.6" />
<text x="269.6" y="223.8" font-size="3.8" text-anchor="end" font-weight="normal" font-family="Liberation Sans, sans-serif" fill="#555" >0</text>
<circle cx="271.3" cy="222.5" r="0.55" fill="#333"/>
<line x1="272" y1="228.575" x2="273" y2="228.575" stroke="#666" stroke-width="0.4" />
<line x1="271.5" y1="234.65" x2="273" y2="234.65" stroke="#444" stroke-width="0.6" />
<text x="269.6" y="235.950" font-size="3.8" text-anchor="end" font-weight="normal" font-family="Liberation Sans, sans-serif" fill="#555" >-20</text>
<circle cx="271.3" cy="234.65" r="0.55" fill="#333"/>
<line x1="272" y1="240.725" x2="273" y2="240.725" stroke="#666" stroke-width="0.4" />
<line x1="271.5" y1="246.8" x2="273" y2="246.8" stroke="#444" stroke-width="0.6" />
<text x="269.6" y="248.100" font-size="3.8" text-anchor="end" font-weight="normal" font-family="Liberation Sans, sans-serif" fill="#555" >-40</text>
<circle cx="271.3" cy="246.8" r="0.55" fill="#333"/>
<line x1="272" y1="252.875" x2="273" y2="252.875" stroke="#666" stroke-width="0.4" />
<line x1="271.5" y1="258.95" x2="273" y2="258.95" stroke="#444" stroke-width="0.6" />
<text x="269.6" y="260.25" font-size="3.8" text-anchor="end" font-weight="normal" font-family="Liberation Sans, sans-serif" fill="#555" >-60</text>
<circle cx="271.3" cy="258.95" r="0.55" fill="#333"/>
<line x1="272" y1="265.025" x2="273" y2="265.025" stroke="#666" stroke-width="0.4" />
<line x1="271.5" y1="271.1" x2="273" y2="271.1" stroke="#444" stroke-width="0.6" />
<text x="269.6" y="272.400" font-size="3.8" text-anchor="end" font-weight="normal" font-family="Liberation Sans, sans-serif" fill="#555" >-80</text>
<circle cx="271.3" cy="271.1" r="0.55" fill="#333"/>
<line x1="272" y1="277.175" x2="273" y2="277.175" stroke="#666" stroke-width="0.4" />
<line x1="271.5" y1="283.25" x2="273" y2="283.25" stroke="#444" stroke-width="0.6" />
<text x="269.6" y="284.55" font-size="3.8" text-anchor="end" font-weight="normal" font-family="Liberation Sans, sans-serif" fill="#555" >-100</text>
<circle cx="271.3" cy="283.25" r="0.55" fill="#333"/>
<line x1="273.0" y1="284.6" x2="273.0" y2="283.3" stroke="#444" stroke-width="0.6" />
<text x="273.0" y="291.0" font-size="3.8" text-anchor="middle" font-weight="normal" font-family="Liberation Sans, sans-serif" fill="#555" >-200</text>
<circle cx="273.0" cy="284.6" r="0.55" fill="#333"/>
<line x1="288.4" y1="284.6" x2="288.4" y2="283.8" stroke="#666" stroke-width="0.4" />
<line x1="303.8" y1="284.6" x2="303.8" y2="283.3" stroke="#444" stroke-width="0.6" />
<text x="303.8" y="291.0" font-size="3.8" text-anchor="middle" font-weight="normal" font-family="Liberation Sans, sans-serif" fill="#555" >0</text>
<circle cx="303.8" cy="284.6" r="0.55" fill="#333"/>
<line x1="319.2" y1="284.6" x2="319.2" y2="283.8" stroke="#666" stroke-width="0.4" />
<line x1="334.6" y1="284.6" x2="334.6" y2="283.3" stroke="#444" stroke-width="0.6" />
<text x="334.6" y="291.0" font-size="3.8" text-anchor="middle" font-weight="normal" font-family="Liberation Sans, sans-serif" fill="#555" >200</text>
<circle cx="334.6" cy="284.6" r="0.55" fill="#333"/>
<line x1="350.0" y1="284.6" x2="350.0" y2="283.8" stroke="#666" stroke-width="0.4" />
<line x1="365.400" y1="284.6" x2="365.400" y2="283.3" stroke="#444" stroke-width="0.6" />
<text x="365.400" y="291.0" font-size="3.8" text-anchor="middle" font-weight="normal" font-family="Liberation Sans, sans-serif" fill="#555" >400</text>
<circle cx="365.400" cy="284.6" r="0.55" fill="#333"/>
<line x1="380.8" y1="284.6" x2="380.8" y2="283.8" stroke="#666" stroke-width="0.4" />
<line x1="396.200" y1="284.6" x2="396.200" y2="283.3" stroke="#444" stroke-width="0.6" />
<text x="396.200" y="291.0" font-size="3.8" text-anchor="middle" font-weight="normal" font-family="Liberation Sans, sans-serif" fill="#555" >600</text>
<circle cx="396.200" cy="284.6" r="0.55" fill="#333"/>
<line x1="411.6" y1="284.6" x2="411.6" y2="283.8" stroke="#666" stroke-width="0.4" />
<line x1="427.0" y1="284.6" x2="427.0" y2="283.3" stroke="#444" stroke-width="0.6" />
<text x="427.0" y="291.0" font-size="3.8" text-anchor="middle" font-weight="normal" font-family="Liberation Sans, sans-serif" fill="#555" >800</text>
<circle cx="427.0" cy="284.6" r="0.55" fill="#333"/>
<line x1="442.4" y1="284.6" x2="442.4" y2="283.8" stroke="#666" stroke-width="0.4" />
<line x1="457.8" y1="284.6" x2="457.8" y2="283.3" stroke="#444" stroke-width="0.6" />
<text x="457.8" y="291.0" font-size="3.8" text-anchor="middle" font-weight="normal" font-family="Liberation Sans, sans-serif" fill="#555" >1000</text>
<circle cx="457.8" cy="284.6" r="0.55" fill="#333"/>
<line x1="473.2" y1="284.6" x2="473.2" y2="283.8" stroke="#666" stroke-width="0.4" />
<line x1="488.6" y1="284.6" x2="488.6" y2="283.3" stroke="#444" stroke-width="0.6" />
<text x="488.6" y="291.0" font-size="3.8" text-anchor="middle" font-weight="normal" font-family="Liberation Sans, sans-serif" fill="#555" >1200</text>
<circle cx="488.6" cy="284.6" r="0.55" fill="#333"/>
<text x="265.8" y="169" font-size="3.4" text-anchor="middle" font-weight="normal" font-family="Liberation Sans, sans-serif" fill="#888" >V</text>
<text x="257.6" y="226.0" font-size="12.1" font-family="Liberation Sans, sans-serif" fill="#111" text-anchor="middle" transform="rotate(-90 257.6 226.0)">Response</text>
<text x="383.4" y="306.3" font-size="12.0" text-anchor="middle" font-weight="normal" font-family="Liberation Sans, sans-serif" fill="#111" >Time</text>
<line x1="303.4" y1="223" x2="303.4" y2="238.3" stroke="#c8c8c8" stroke-width="0.6" />
<circle cx="294.9" cy="223.7" r="0.8" fill="#888"/>
<line x1="296" y1="223.2" x2="300" y2="222.4" stroke="#aaa" stroke-width="0.5" />
<line x1="300" y1="221" x2="301.6" y2="222.6" stroke="#888" stroke-width="0.5" />
<line x1="300" y1="222.6" x2="301.6" y2="221" stroke="#888" stroke-width="0.5" />
<path d="M304.70,222.60 L305.37,221.09 L306.05,219.61 L306.72,218.18 L307.39,216.77 L308.06,215.41 L308.74,214.07 L309.41,212.77 L310.08,211.50 L310.75,210.26 L311.43,209.06 L312.10,207.88 L312.77,206.73 L313.44,205.61 L314.12,204.52 L314.79,203.46 L315.46,202.42 L316.13,201.40 L316.81,200.41 L317.48,199.45 L318.15,198.51 L318.82,197.59 L319.50,196.70 L320.17,195.83 L320.84,194.98 L321.51,194.15 L322.19,193.34 L322.86,192.55 L323.53,191.78 L324.20,191.03 L324.88,190.30 L325.55,189.58 L326.22,188.89 L326.89,188.21 L327.56,187.54 L328.24,186.90 L328.91,186.27 L329.58,185.65 L330.25,185.05 L330.93,184.47 L331.60,183.90 L339.40,184.06 L347.20,184.22 L355.00,184.38 L362.80,184.54 L370.60,184.70 L378.40,184.86 L386.20,185.02 L394.00,185.18 L401.80,185.34 L409.60,185.50 L417.40,185.66 L425.20,185.82 L433.00,185.98 L440.80,186.14 L448.60,186.30 L456.40,186.46 L464.20,186.62 L472.00,186.78 L479.80,186.94 L487.60,187.10" fill="none" stroke="#d2a8da" stroke-width="1.1"/>
<path d="M304.70,222.60 L305.37,221.89 L306.05,221.19 L306.72,220.50 L307.39,219.82 L308.06,219.14 L308.74,218.47 L309.41,217.80 L310.08,217.14 L310.75,216.49 L311.43,215.85 L312.10,215.21 L312.77,214.57 L313.44,213.95 L314.12,213.33 L314.79,212.71 L315.46,212.11 L316.13,211.50 L316.81,210.91 L317.48,210.32 L318.15,209.73 L318.82,209.16 L319.50,208.58 L320.17,208.02 L320.84,207.46 L321.51,206.90 L322.19,206.35 L322.86,205.81 L323.53,205.27 L324.20,204.73 L324.88,204.20 L325.55,203.68 L326.22,203.16 L326.89,202.65 L327.56,202.14 L328.24,201.64 L328.91,201.14 L329.58,200.65 L330.25,200.16 L330.93,199.68 L331.60,199.20 L339.40,199.29 L347.20,199.39 L355.00,199.48 L362.80,199.58 L370.60,199.67 L378.40,199.77 L386.20,199.86 L394.00,199.96 L401.80,200.05 L409.60,200.15 L417.40,200.25 L425.20,200.34 L433.00,200.44 L440.80,200.53 L448.60,200.62 L456.40,200.72 L464.20,200.81 L472.00,200.91 L479.80,201.00 L487.60,201.10" fill="none" stroke="#a86468" stroke-width="1.1"/>
<path d="M304.70,222.60 L305.37,222.23 L306.05,221.86 L306.72,221.49 L307.39,221.13 L308.06,220.76 L308.74,220.40 L309.41,220.04 L310.08,219.68 L310.75,219.32 L311.43,218.97 L312.10,218.61 L312.77,218.26 L313.44,217.91 L314.12,217.57 L314.79,217.22 L315.46,216.87 L316.13,216.53 L316.81,216.19 L317.48,215.85 L318.15,215.51 L318.82,215.18 L319.50,214.84 L320.17,214.51 L320.84,214.18 L321.51,213.85 L322.19,213.52 L322.86,213.20 L323.53,212.87 L324.20,212.55 L324.88,212.23 L325.55,211.91 L326.22,211.59 L326.89,211.27 L327.56,210.96 L328.24,210.64 L328.91,210.33 L329.58,210.02 L330.25,209.71 L330.93,209.41 L331.60,209.10 L339.40,209.25 L347.20,209.39 L355.00,209.53 L362.80,209.68 L370.60,209.82 L378.40,209.97 L386.20,210.12 L394.00,210.26 L401.80,210.41 L409.60,210.55 L417.40,210.69 L425.20,210.84 L433.00,210.98 L440.80,211.13 L448.60,211.28 L456.40,211.42 L464.20,211.56 L472.00,211.71 L479.80,211.85 L487.60,212.00" fill="none" stroke="#8c70d4" stroke-width="1.1"/>
<path d="M304.70,222.60 L305.37,222.42 L306.05,222.23 L306.72,222.05 L307.39,221.87 L308.06,221.70 L308.74,221.52 L309.41,221.35 L310.08,221.18 L310.75,221.01 L311.43,220.84 L312.10,220.67 L312.77,220.51 L313.44,220.34 L314.12,220.18 L314.79,220.02 L315.46,219.86 L316.13,219.71 L316.81,219.55 L317.48,219.40 L318.15,219.25 L318.82,219.10 L319.50,218.95 L320.17,218.80 L320.84,218.65 L321.51,218.51 L322.19,218.36 L322.86,218.22 L323.53,218.08 L324.20,217.94 L324.88,217.80 L325.55,217.67 L326.22,217.53 L326.89,217.40 L327.56,217.27 L328.24,217.14 L328.91,217.01 L329.58,216.88 L330.25,216.75 L330.93,216.62 L331.60,216.50 L339.40,216.60 L347.20,216.70 L355.00,216.80 L362.80,216.90 L370.60,217.00 L378.40,217.10 L386.20,217.20 L394.00,217.30 L401.80,217.40 L409.60,217.50 L417.40,217.60 L425.20,217.70 L433.00,217.80 L440.80,217.90 L448.60,218.00 L456.40,218.10 L464.20,218.20 L472.00,218.30 L479.80,218.40 L487.60,218.50" fill="none" stroke="#f0a888" stroke-width="1.0"/>
<path d="M304.70,222.60 L305.37,222.46 L306.05,222.32 L306.72,222.18 L307.39,222.04 L308.06,221.90 L308.74,221.77 L309.41,221.64 L310.08,221.50 L310.75,221.37 L311.43,221.24 L312.10,221.11 L312.77,220.99 L313.44,220.86 L314.12,220.74 L314.79,220.61 L315.46,220.49 L316.13,220.37 L316.81,220.25 L317.48,220.13 L318.15,220.02 L318.82,219.90 L319.50,219.78 L320.17,219.67 L320.84,219.56 L321.51,219.45 L322.19,219.34 L322.86,219.23 L323.53,219.12 L324.20,219.01 L324.88,218.91 L325.55,218.80 L326.22,218.70 L326.89,218.59 L327.56,218.49 L328.24,218.39 L328.91,218.29 L329.58,218.19 L330.25,218.09 L330.93,218.00 L331.60,217.90 L339.40,217.98 L347.20,218.06 L355.00,218.14 L362.80,218.22 L370.60,218.30 L378.40,218.38 L386.20,218.46 L394.00,218.54 L401.80,218.62 L409.60,218.70 L417.40,218.78 L425.20,218.86 L433.00,218.94 L440.80,219.02 L448.60,219.10 L456.40,219.18 L464.20,219.26 L472.00,219.34 L479.80,219.42 L487.60,219.50" fill="none" stroke="#e8e0a0" stroke-width="1.0"/>
<path d="M304.70,222.60 L305.37,222.52 L306.05,222.44 L306.72,222.36 L307.39,222.28 L308.06,222.20 L308.74,222.12 L309.41,222.05 L310.08,221.97 L310.75,221.90 L311.43,221.82 L312.10,221.75 L312.77,221.67 L313.44,221.60 L314.12,221.53 L314.79,221.46 L315.46,221.39 L316.13,221.32 L316.81,221.25 L317.48,221.18 L318.15,221.12 L318.82,221.05 L319.50,220.98 L320.17,220.92 L320.84,220.85 L321.51,220.79 L322.19,220.72 L322.86,220.66 L323.53,220.60 L324.20,220.54 L324.88,220.48 L325.55,220.42 L326.22,220.36 L326.89,220.30 L327.56,220.24 L328.24,220.18 L328.91,220.12 L329.58,220.07 L330.25,220.01 L330.93,219.96 L331.60,219.90 L339.40,219.97 L347.20,220.05 L355.00,220.12 L362.80,220.20 L370.60,220.28 L378.40,220.35 L386.20,220.43 L394.00,220.50 L401.80,220.58 L409.60,220.65 L417.40,220.72 L425.20,220.80 L433.00,220.88 L440.80,220.95 L448.60,221.03 L456.40,221.10 L464.20,221.18 L472.00,221.25 L479.80,221.33 L487.60,221.40" fill="none" stroke="#70c870" stroke-width="1.6"/>
<path d="M304.70,222.60 L305.37,222.55 L306.05,222.50 L306.72,222.46 L307.39,222.41 L308.06,222.36 L308.74,222.32 L309.41,222.27 L310.08,222.23 L310.75,222.18 L311.43,222.14 L312.10,222.09 L312.77,222.05 L313.44,222.01 L314.12,221.97 L314.79,221.92 L315.46,221.88 L316.13,221.84 L316.81,221.80 L317.48,221.76 L318.15,221.72 L318.82,221.68 L319.50,221.64 L320.17,221.60 L320.84,221.56 L321.51,221.53 L322.19,221.49 L322.86,221.45 L323.53,221.41 L324.20,221.38 L324.88,221.34 L325.55,221.31 L326.22,221.27 L326.89,221.24 L327.56,221.20 L328.24,221.17 L328.91,221.13 L329.58,221.10 L330.25,221.07 L330.93,221.03 L331.60,221.00 L339.40,221.06 L347.20,221.12 L355.00,221.18 L362.80,221.24 L370.60,221.30 L378.40,221.36 L386.20,221.42 L394.00,221.48 L401.80,221.54 L409.60,221.60 L417.40,221.66 L425.20,221.72 L433.00,221.78 L440.80,221.84 L448.60,221.90 L456.40,221.96 L464.20,222.02 L472.00,222.08 L479.80,222.14 L487.60,222.20" fill="none" stroke="#70a070" stroke-width="0.8"/>
<path d="M304.70,222.60 L305.37,222.60 L306.05,222.59 L306.72,222.59 L307.39,222.59 L308.06,222.59 L308.74,222.58 L309.41,222.58 L310.08,222.58 L310.75,222.57 L311.43,222.57 L312.10,222.57 L312.77,222.57 L313.44,222.56 L314.12,222.56 L314.79,222.56 L315.46,222.56 L316.13,222.55 L316.81,222.55 L317.48,222.55 L318.15,222.55 L318.82,222.54 L319.50,222.54 L320.17,222.54 L320.84,222.54 L321.51,222.53 L322.19,222.53 L322.86,222.53 L323.53,222.53 L324.20,222.52 L324.88,222.52 L325.55,222.52 L326.22,222.52 L326.89,222.51 L327.56,222.51 L328.24,222.51 L328.91,222.51 L329.58,222.51 L330.25,222.50 L330.93,222.50 L331.60,222.50 L339.40,222.56 L347.20,222.62 L355.00,222.68 L362.80,222.74 L370.60,222.80 L378.40,222.86 L386.20,222.92 L394.00,222.98 L401.80,223.04 L409.60,223.10 L417.40,223.16 L425.20,223.22 L433.00,223.28 L440.80,223.34 L448.60,223.40 L456.40,223.46 L464.20,223.52 L472.00,223.58 L479.80,223.64 L487.60,223.70" fill="none" stroke="#8a6a8a" stroke-width="1.1"/>
<path d="M305,222.4 Q318,226 332,225 L335,223.5 L487.6,224.2" fill="none" stroke="#70d8e8" stroke-width="1"/>
<text x="332" y="185.0" font-size="3.6" fill="#7a5ac0" text-anchor="middle" font-family="Liberation Sans, sans-serif">x</text>
<text x="332" y="210.399" font-size="3.6" fill="#7a5ac0" text-anchor="middle" font-family="Liberation Sans, sans-serif">x</text>
<line x1="332" y1="214.5" x2="332" y2="226" stroke="#999" stroke-width="0.4" />
<text x="18.8" y="339.2" font-size="11.8" text-anchor="start" font-weight="bold" font-family="Liberation Sans, sans-serif" fill="#111" >E</text>
<line x1="49.25" y1="377" x2="49.25" y2="434.5" stroke="#444" stroke-width="0.9" />
<line x1="46.5" y1="424.25" x2="49.25" y2="424.25" stroke="#444" stroke-width="0.9" />
<text x="45.2" y="426.75" font-size="7.0" text-anchor="end" font-weight="bold" font-family="Liberation Sans, sans-serif" fill="#222" >1.0</text>
<line x1="46.5" y1="400.625" x2="49.25" y2="400.625" stroke="#444" stroke-width="0.9" />
<text x="45.2" y="403.125" font-size="7.0" text-anchor="end" font-weight="bold" font-family="Liberation Sans, sans-serif" fill="#222" >1.5</text>
<line x1="46.5" y1="377.0" x2="49.25" y2="377.0" stroke="#444" stroke-width="0.9" />
<text x="45.2" y="379.5" font-size="7.0" text-anchor="end" font-weight="bold" font-family="Liberation Sans, sans-serif" fill="#222" >2.0</text>
<line x1="50" y1="434.5" x2="135" y2="434.5" stroke="#444" stroke-width="0.9" />
<line x1="63.75" y1="434.5" x2="63.75" y2="437.2" stroke="#444" stroke-width="0.9" />
<text x="63.75" y="442.5" font-size="6.4" text-anchor="middle" font-weight="bold" font-family="Liberation Sans, sans-serif" fill="#222" >3.3</text>
<line x1="92.5" y1="434.5" x2="92.5" y2="437.2" stroke="#444" stroke-width="0.9" />
<text x="92.5" y="442.5" font-size="6.4" text-anchor="middle" font-weight="bold" font-family="Liberation Sans, sans-serif" fill="#222" >10</text>
<line x1="120.75" y1="434.5" x2="120.75" y2="437.2" stroke="#444" stroke-width="0.9" />
<text x="120.75" y="442.5" font-size="6.4" text-anchor="middle" font-weight="bold" font-family="Liberation Sans, sans-serif" fill="#222" >30</text>
<text x="91.4" y="455.3" font-size="7.95" text-anchor="middle" font-weight="bold" font-family="Liberation Sans, sans-serif" fill="#111" >Concentration (&#956;g/mL)</text>
<text x="26.4" y="404.5" font-size="7.98" font-weight="bold" font-family="Liberation Sans, sans-serif" fill="#111" text-anchor="middle" transform="rotate(-90 26.4 404.5)">Fold change (Ab/Isotype)</text>
<path d="M63.75,419.52 L92.5,415.27 L120.75,407.24" fill="none" stroke="#222" stroke-width="0.8"/>
<circle cx="63.75" cy="419.52" r="1.3" fill="#111"/>
<circle cx="92.5" cy="415.27" r="1.3" fill="#111"/>
<circle cx="120.75" cy="407.24" r="1.3" fill="#111"/>
<path d="M63.75,419.52 L92.5,420.19 L120.75,414.80" fill="none" stroke="#222" stroke-width="0.8"/>
<circle cx="63.75" cy="419.52" r="1.3" fill="#111"/>
<circle cx="92.5" cy="420.19" r="1.3" fill="#111"/>
<circle cx="120.75" cy="414.80" r="1.3" fill="#111"/>
<path d="M63.75,423.12 L92.5,424.25 L120.75,415.75" fill="none" stroke="#222" stroke-width="0.8"/>
<circle cx="63.75" cy="423.12" r="1.3" fill="#111"/>
<circle cx="92.5" cy="424.25" r="1.3" fill="#111"/>
<circle cx="120.75" cy="415.75" r="1.3" fill="#111"/>
<path d="M63.75,423.12 L92.5,423.31 L120.75,422.83" fill="none" stroke="#222" stroke-width="0.8"/>
<circle cx="63.75" cy="423.12" r="1.3" fill="#111"/>
<circle cx="92.5" cy="423.31" r="1.3" fill="#111"/>
<circle cx="120.75" cy="422.83" r="1.3" fill="#111"/>
<line x1="149.5" y1="380.8" x2="157" y2="380.8" stroke="#222" stroke-width="0.8" />
<circle cx="153.3" cy="380.8" r="1.1" fill="#111"/>
<text x="159.6" y="383.7" font-size="8.1" text-anchor="start" font-weight="normal" font-family="Liberation Sans, sans-serif" fill="#111" >CT26</text>
<line x1="149.5" y1="392" x2="157" y2="392" stroke="#222" stroke-width="0.8" />
<circle cx="153.3" cy="392" r="1.1" fill="#111"/>
<text x="159.6" y="394.9" font-size="8.1" text-anchor="start" font-weight="normal" font-family="Liberation Sans, sans-serif" fill="#111" >Renca</text>
<line x1="149.5" y1="403.5" x2="157" y2="403.5" stroke="#222" stroke-width="0.8" />
<circle cx="153.3" cy="403.5" r="1.1" fill="#111"/>
<text x="159.6" y="406.4" font-size="8.1" text-anchor="start" font-weight="normal" font-family="Liberation Sans, sans-serif" fill="#111" >EG.7 OVA</text>
<line x1="149.5" y1="416.2" x2="157" y2="416.2" stroke="#222" stroke-width="0.8" />
<circle cx="153.3" cy="416.2" r="1.1" fill="#111"/>
<text x="159.6" y="419.099" font-size="8.1" text-anchor="start" font-weight="normal" font-family="Liberation Sans, sans-serif" fill="#111" >MC38OVAdim</text>
<text x="234.4" y="339.8" font-size="11.8" text-anchor="start" font-weight="bold" font-family="Liberation Sans, sans-serif" fill="#111" >F</text>
<line x1="261.3" y1="375" x2="261.3" y2="432.6" stroke="#444" stroke-width="0.9" />
<line x1="258.5" y1="422.7" x2="261.3" y2="422.7" stroke="#444" stroke-width="0.9" />
<text x="258.2" y="425.2" font-size="7.0" text-anchor="end" font-weight="bold" font-family="Liberation Sans, sans-serif" fill="#222" >1.0</text>
<line x1="258.5" y1="398.9" x2="261.3" y2="398.9" stroke="#444" stroke-width="0.9" />
<text x="258.2" y="401.4" font-size="7.0" text-anchor="end" font-weight="bold" font-family="Liberation Sans, sans-serif" fill="#222" >1.5</text>
<line x1="258.5" y1="375.099" x2="261.3" y2="375.099" stroke="#444" stroke-width="0.9" />
<text x="258.2" y="377.599" font-size="7.0" text-anchor="end" font-weight="bold" font-family="Liberation Sans, sans-serif" fill="#222" >2.0</text>
<line x1="262.7" y1="432.6" x2="347.5" y2="432.6" stroke="#444" stroke-width="0.9" />
<line x1="283" y1="432.6" x2="283" y2="435.3" stroke="#444" stroke-width="0.9" />
<text x="283" y="442.2" font-size="6.4" text-anchor="middle" font-weight="bold" font-family="Liberation Sans, sans-serif" fill="#222" >5</text>
<line x1="325.7" y1="432.6" x2="325.7" y2="435.3" stroke="#444" stroke-width="0.9" />
<text x="325.7" y="442.2" font-size="6.4" text-anchor="middle" font-weight="bold" font-family="Liberation Sans, sans-serif" fill="#222" >20</text>
<text x="304.8" y="454.3" font-size="7.95" text-anchor="middle" font-weight="bold" font-family="Liberation Sans, sans-serif" fill="#111" >Concentration (&#956;g/mL)</text>
<text x="241.4" y="402.2" font-size="7.98" font-weight="bold" font-family="Liberation Sans, sans-serif" fill="#111" text-anchor="middle" transform="rotate(-90 241.4 402.2)">Fold change (Ab/Isotype)</text>
<line x1="283" y1="427.46" x2="325.7" y2="409.372" stroke="#333" stroke-width="0.6" />
<circle cx="283" cy="427.46" r="1.2" fill="#111"/>
<circle cx="325.7" cy="409.37" r="1.4" fill="#111"/>
<line x1="283" y1="420.796" x2="325.7" y2="425.08" stroke="#777" stroke-width="0.6" />
<circle cx="283" cy="420.80" r="1.2" fill="#111"/>
<circle cx="325.7" cy="425.08" r="1.4" fill="#111"/>
<line x1="283" y1="421.748" x2="325.7" y2="424.128" stroke="#777" stroke-width="0.6" />
<circle cx="283" cy="421.75" r="1.2" fill="#111"/>
<circle cx="325.7" cy="424.13" r="1.4" fill="#111"/>
<line x1="283" y1="422.7" x2="325.7" y2="423.652" stroke="#777" stroke-width="0.6" />
<circle cx="283" cy="422.70" r="1.2" fill="#111"/>
<circle cx="325.7" cy="423.65" r="1.4" fill="#111"/>
<line x1="283" y1="419.368" x2="325.7" y2="424.604" stroke="#777" stroke-width="0.6" />
<circle cx="283" cy="419.37" r="1.2" fill="#111"/>
<circle cx="325.7" cy="424.60" r="1.4" fill="#111"/>
<line x1="283" y1="417.94" x2="325.7" y2="423.176" stroke="#777" stroke-width="0.6" />
<circle cx="283" cy="417.94" r="1.2" fill="#111"/>
<circle cx="325.7" cy="423.18" r="1.4" fill="#111"/>
<line x1="283" y1="423.652" x2="325.7" y2="425.556" stroke="#777" stroke-width="0.6" />
<circle cx="283" cy="423.65" r="1.2" fill="#111"/>
<circle cx="325.7" cy="425.56" r="1.4" fill="#111"/>
<line x1="283" y1="420.32" x2="325.7" y2="424.842" stroke="#777" stroke-width="0.6" />
<circle cx="283" cy="420.32" r="1.2" fill="#111"/>
<circle cx="325.7" cy="424.84" r="1.4" fill="#111"/>
<line x1="355.2" y1="364.1" x2="362.4" y2="364.1" stroke="#222" stroke-width="0.8" />
<circle cx="358.8" cy="364.1" r="1.1" fill="#111"/>
<text x="366.5" y="367.0" font-size="8.1" text-anchor="start" font-weight="normal" font-family="Liberation Sans, sans-serif" fill="#111" >CD4</text>
<line x1="355.2" y1="375.2" x2="362.4" y2="375.2" stroke="#222" stroke-width="0.8" />
<circle cx="358.8" cy="375.2" r="1.1" fill="#111"/>
<text x="366.5" y="378.099" font-size="8.1" text-anchor="start" font-weight="normal" font-family="Liberation Sans, sans-serif" fill="#111" >CD8</text>
<line x1="355.2" y1="386.5" x2="362.4" y2="386.5" stroke="#222" stroke-width="0.8" />
<circle cx="358.8" cy="386.5" r="1.1" fill="#111"/>
<text x="366.5" y="389.4" font-size="8.1" text-anchor="start" font-weight="normal" font-family="Liberation Sans, sans-serif" fill="#111" >NK</text>
<line x1="355.2" y1="399.4" x2="362.4" y2="399.4" stroke="#222" stroke-width="0.8" />
<circle cx="358.8" cy="399.4" r="1.1" fill="#111"/>
<text x="366.5" y="402.299" font-size="8.1" text-anchor="start" font-weight="normal" font-family="Liberation Sans, sans-serif" fill="#111" >NKT</text>
<line x1="355.2" y1="411.3" x2="362.4" y2="411.3" stroke="#222" stroke-width="0.8" />
<circle cx="358.8" cy="411.3" r="1.1" fill="#111"/>
<text x="366.5" y="414.2" font-size="8.1" text-anchor="start" font-weight="normal" font-family="Liberation Sans, sans-serif" fill="#111" >DCs</text>
<line x1="355.2" y1="424.2" x2="362.4" y2="424.2" stroke="#222" stroke-width="0.8" />
<text x="366.5" y="427.099" font-size="8.1" text-anchor="start" font-weight="normal" font-family="Liberation Sans, sans-serif" fill="#111" >Monocytes</text>
<text x="422.0" y="339.3" font-size="12.8" text-anchor="start" font-weight="bold" font-family="Liberation Sans, sans-serif" fill="#111" >G</text>
<line x1="459.4" y1="343.2" x2="459.4" y2="429.1" stroke="#444" stroke-width="0.9" />
<line x1="456.8" y1="429.1" x2="459.4" y2="429.1" stroke="#444" stroke-width="0.9" />
<text x="455.4" y="431.450" font-size="6.5" text-anchor="end" font-weight="bold" font-family="Liberation Sans, sans-serif" fill="#222" >0</text>
<line x1="456.8" y1="407.75" x2="459.4" y2="407.75" stroke="#444" stroke-width="0.9" />
<text x="455.4" y="410.1" font-size="6.5" text-anchor="end" font-weight="bold" font-family="Liberation Sans, sans-serif" fill="#222" >500</text>
<line x1="456.8" y1="386.400" x2="459.4" y2="386.400" stroke="#444" stroke-width="0.9" />
<text x="455.4" y="388.750" font-size="6.5" text-anchor="end" font-weight="bold" font-family="Liberation Sans, sans-serif" fill="#222" >1,000</text>
<line x1="456.8" y1="365.05" x2="459.4" y2="365.05" stroke="#444" stroke-width="0.9" />
<text x="455.4" y="367.400" font-size="6.5" text-anchor="end" font-weight="bold" font-family="Liberation Sans, sans-serif" fill="#222" >1,500</text>
<line x1="456.8" y1="343.700" x2="459.4" y2="343.700" stroke="#444" stroke-width="0.9" />
<text x="455.4" y="346.050" font-size="6.5" text-anchor="end" font-weight="bold" font-family="Liberation Sans, sans-serif" fill="#222" >2,000</text>
<line x1="459.4" y1="429.1" x2="518" y2="429.1" stroke="#444" stroke-width="0.9" />
<rect x="465.2" y="385.55" width="11.4" height="43.55" fill="#4a968f" stroke="#222" stroke-width="0.6"/>
<line x1="470.9" y1="380.849" x2="470.9" y2="385.546" stroke="#222" stroke-width="0.8" />
<line x1="468.9" y1="380.849" x2="472.9" y2="380.849" stroke="#222" stroke-width="0.8" />
<circle cx="469.4" cy="381.28" r="1.1" fill="#222"/>
<circle cx="472.4" cy="383.84" r="1.1" fill="#222"/>
<circle cx="470.9" cy="388.54" r="1.1" fill="#222"/>
<circle cx="469.9" cy="386.40" r="1.1" fill="#222"/>
<rect x="482.0" y="420.56" width="11.4" height="8.54" fill="#7eeeee" stroke="#222" stroke-width="0.6"/>
<line x1="487.7" y1="420.56" x2="487.7" y2="420.56" stroke="#222" stroke-width="0.8" />
<line x1="485.7" y1="420.56" x2="489.7" y2="420.56" stroke="#222" stroke-width="0.8" />
<circle cx="484.2" cy="420.56" r="1.1" fill="#222"/>
<circle cx="486.5" cy="420.56" r="1.1" fill="#222"/>
<circle cx="488.9" cy="420.56" r="1.1" fill="#222"/>
<circle cx="491.2" cy="420.56" r="1.1" fill="#222"/>
<rect x="499.6" y="366.33" width="11.4" height="62.77" fill="#1f3a76" stroke="#222" stroke-width="0.6"/>
<line x1="505.3" y1="357.791" x2="505.3" y2="366.331" stroke="#222" stroke-width="0.8" />
<line x1="503.3" y1="357.791" x2="507.3" y2="357.791" stroke="#222" stroke-width="0.8" />
<circle cx="503.8" cy="359.07" r="1.1" fill="#222"/>
<circle cx="506.8" cy="364.20" r="1.1" fill="#222"/>
<circle cx="505.3" cy="369.75" r="1.1" fill="#222"/>
<circle cx="504.3" cy="373.59" r="1.1" fill="#222"/>
<line x1="470.9" y1="429.1" x2="470.9" y2="431.8" stroke="#444" stroke-width="0.9" />
<line x1="487.7" y1="429.1" x2="487.7" y2="431.8" stroke="#444" stroke-width="0.9" />
<line x1="505.3" y1="429.1" x2="505.3" y2="431.8" stroke="#444" stroke-width="0.9" />
<path d="M487.7,417.5 L487.7,349.8 L504.6,349.8 L504.6,355" fill="none" stroke="#444" stroke-width="0.8"/>
<circle cx="490.50" cy="346" r="1.5" fill="#111"/>
<circle cx="494.60" cy="346" r="1.5" fill="#111"/>
<circle cx="498.70" cy="346" r="1.5" fill="#111"/>
<circle cx="502.80" cy="346" r="1.5" fill="#111"/>
<text x="434.6" y="388" font-size="7.5" font-weight="bold" font-family="Liberation Sans, sans-serif" fill="#111" text-anchor="middle" transform="rotate(-90 434.6 388)">IFN&#947; (pg/mL)</text>
<text x="472.6" y="436.8" font-size="7.65" font-weight="bold" font-family="Liberation Sans, sans-serif" fill="#111" text-anchor="end" transform="rotate(-45 472.6 436.8)">IL18</text>
<text x="488.0" y="439.5" font-size="7.65" font-weight="bold" font-family="Liberation Sans, sans-serif" fill="#111" text-anchor="end" transform="rotate(-45 488.0 439.5)">Isotype</text>
<text x="508.0" y="436.6" font-size="7.65" font-weight="bold" font-family="Liberation Sans, sans-serif" fill="#111" text-anchor="end" transform="rotate(-45 508.0 436.6)">&#945;IL-18BP Ab</text>
<line x1="478.6" y1="473.2" x2="516" y2="473.2" stroke="#222" stroke-width="0.8" />
<text x="498.3" y="481.5" font-size="6.35" text-anchor="middle" font-weight="bold" font-family="Liberation Sans, sans-serif" fill="#111" >IL18 + IL18BP</text>
</svg>
</body></html>
